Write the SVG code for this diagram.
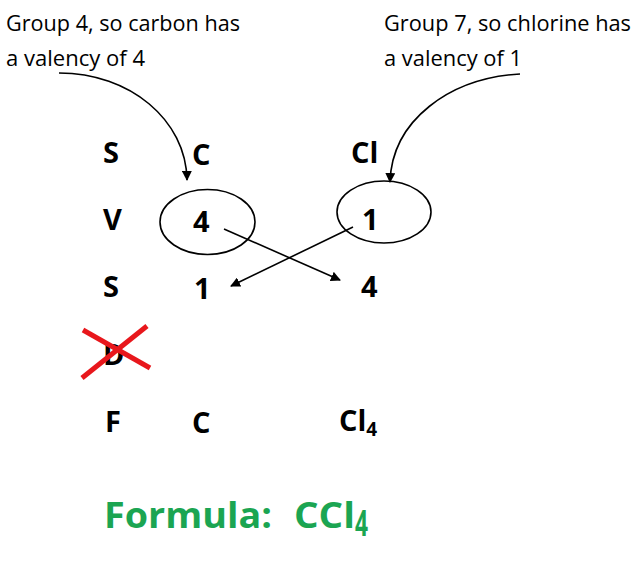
<svg xmlns="http://www.w3.org/2000/svg" width="637" height="565" viewBox="0 0 637 565">
<style>
.note{font-family:"Open Sans","Liberation Sans",sans-serif;font-size:21px;fill:#000}
.lab{font-family:"Open Sans","Liberation Sans",sans-serif;font-weight:bold;font-size:29px;fill:#000}
.sub{font-size:19px}
.line{fill:none;stroke:#000;stroke-width:1.6}
.x{stroke:#E8171C;stroke-width:5;stroke-linecap:butt}
.formula{font-family:"Open Sans","Liberation Sans",sans-serif;font-weight:bold;font-size:36px;fill:#1BA552}
</style>
<defs>
<marker id="ah" viewBox="0 0 10 10" refX="9" refY="5" markerWidth="10" markerHeight="10" markerUnits="userSpaceOnUse" orient="auto">
<path d="M0,0 L10,5 L0,10 Z" fill="#000"/>
</marker>
</defs>
<rect width="637" height="565" fill="#fff"/>
<g id="note-carbon">
<text class="note" x="6" y="31" textLength="234" lengthAdjust="spacingAndGlyphs">Group 4, so carbon has</text>
<text class="note" x="6" y="66" textLength="139" lengthAdjust="spacingAndGlyphs">a valency of 4</text>
</g>
<g id="note-chlorine">
<text class="note" x="384" y="31" textLength="247" lengthAdjust="spacingAndGlyphs">Group 7, so chlorine has</text>
<text class="note" x="384" y="66" textLength="138" lengthAdjust="spacingAndGlyphs">a valency of 1</text>
</g>
<g id="row-labels">
<text class="lab" x="103" y="163">S</text>
<text class="lab" x="103" y="230">V</text>
<text class="lab" x="103" y="297">S</text>
<text class="lab" x="103" y="365">D</text>
<text class="lab" x="105" y="432">F</text>
</g>
<g id="carbon">
<text class="lab" x="192" y="165">C</text>
<ellipse cx="207.5" cy="222" rx="47.5" ry="32.5" class="line"/>
<text class="lab" x="193" y="232">4</text>
<text class="lab" x="194" y="299">1</text>
<text class="lab" x="192" y="433">C</text>
</g>
<g id="chlorine">
<text class="lab" x="351" y="163">Cl</text>
<ellipse cx="384" cy="212" rx="47" ry="31" class="line"/>
<text class="lab" x="362" y="230">1</text>
<text class="lab" x="361" y="297">4</text>
<text class="lab" x="339" y="431">Cl<tspan class="sub" dy="5">4</tspan></text>
</g>
<g id="cross">
<line class="x" x1="82" y1="378" x2="147" y2="326"/>
<line class="x" x1="83" y1="330" x2="150" y2="368"/>
</g>
<g id="connectors">
<path class="line" d="M59,73 C130,73 186,120 187,180" marker-end="url(#ah)"/>
<path class="line" d="M520,74 C450,78 392,120 390,182" marker-end="url(#ah)"/>
<line class="line" x1="224" y1="229" x2="340" y2="280" marker-end="url(#ah)"/>
<line class="line" x1="353" y1="227" x2="231" y2="286" marker-end="url(#ah)"/>
</g>
<g id="formula">
<text class="formula" x="104" y="528" textLength="168" lengthAdjust="spacingAndGlyphs">Formula:</text>
<text class="formula" x="294" y="528" textLength="61" lengthAdjust="spacingAndGlyphs">CCl</text>
<text class="formula" x="355" y="536" font-size="19" textLength="13" lengthAdjust="spacingAndGlyphs">4</text>
</g>
</svg>
